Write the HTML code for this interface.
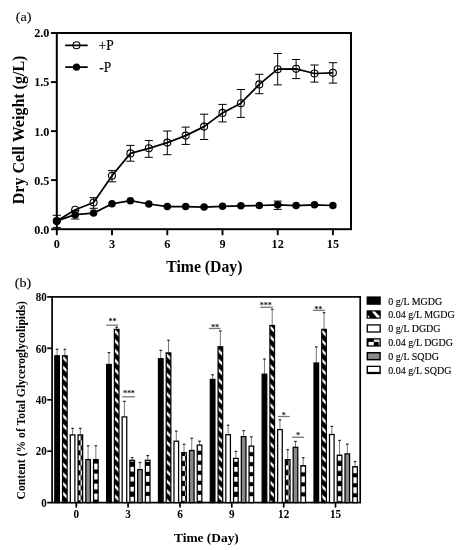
<!DOCTYPE html>
<html><head><meta charset="utf-8"><title>Figure</title>
<style>html,body{margin:0;padding:0;background:#fff;width:465px;height:550px;overflow:hidden;position:relative}</style>
</head><body>
<svg width="465" height="550" viewBox="0 0 465 550" font-family='"Liberation Serif", "Times New Roman", serif' style="position:absolute;left:0;top:0">
<rect width="465" height="550" fill="#fff"/>
<text transform="translate(15.70,20.60) scale(1,0.92)" font-size="14.2" stroke="#000" stroke-width="0.12">(a)</text>
<rect x="56.8" y="33.0" width="294.2" height="196.2" fill="none" stroke="#000" stroke-width="2"/>
<line x1="51.0" y1="229.2" x2="56.8" y2="229.2" stroke="#000" stroke-width="1.9"/>
<text transform="translate(49.40,233.60) scale(1,1.06)" font-size="12.2" font-weight="bold" text-anchor="end">0.0</text>
<line x1="51.0" y1="180.1" x2="56.8" y2="180.1" stroke="#000" stroke-width="1.9"/>
<text transform="translate(49.40,184.55) scale(1,1.06)" font-size="12.2" font-weight="bold" text-anchor="end">0.5</text>
<line x1="51.0" y1="131.1" x2="56.8" y2="131.1" stroke="#000" stroke-width="1.9"/>
<text transform="translate(49.40,135.50) scale(1,1.06)" font-size="12.2" font-weight="bold" text-anchor="end">1.0</text>
<line x1="51.0" y1="82.1" x2="56.8" y2="82.1" stroke="#000" stroke-width="1.9"/>
<text transform="translate(49.40,86.45) scale(1,1.06)" font-size="12.2" font-weight="bold" text-anchor="end">1.5</text>
<line x1="51.0" y1="33.0" x2="56.8" y2="33.0" stroke="#000" stroke-width="1.9"/>
<text transform="translate(49.40,37.40) scale(1,1.06)" font-size="12.2" font-weight="bold" text-anchor="end">2.0</text>
<line x1="56.8" y1="229.2" x2="56.8" y2="235.2" stroke="#000" stroke-width="1.9"/>
<text transform="translate(56.80,247.70) scale(1,1.06)" font-size="12.2" font-weight="bold" text-anchor="middle">0</text>
<line x1="112.0" y1="229.2" x2="112.0" y2="235.2" stroke="#000" stroke-width="1.9"/>
<text transform="translate(112.03,247.70) scale(1,1.06)" font-size="12.2" font-weight="bold" text-anchor="middle">3</text>
<line x1="167.3" y1="229.2" x2="167.3" y2="235.2" stroke="#000" stroke-width="1.9"/>
<text transform="translate(167.26,247.70) scale(1,1.06)" font-size="12.2" font-weight="bold" text-anchor="middle">6</text>
<line x1="222.5" y1="229.2" x2="222.5" y2="235.2" stroke="#000" stroke-width="1.9"/>
<text transform="translate(222.49,247.70) scale(1,1.06)" font-size="12.2" font-weight="bold" text-anchor="middle">9</text>
<line x1="277.7" y1="229.2" x2="277.7" y2="235.2" stroke="#000" stroke-width="1.9"/>
<text transform="translate(277.72,247.70) scale(1,1.06)" font-size="12.2" font-weight="bold" text-anchor="middle">12</text>
<line x1="332.9" y1="229.2" x2="332.9" y2="235.2" stroke="#000" stroke-width="1.9"/>
<text transform="translate(332.95,247.70) scale(1,1.06)" font-size="12.2" font-weight="bold" text-anchor="middle">15</text>
<text transform="translate(204.30,271.90)" font-size="15.75" font-weight="bold" text-anchor="middle">Time (Day)</text>
<text transform="translate(23.80,129.90) rotate(-90)" font-size="16" font-weight="bold" text-anchor="middle">Dry Cell Weight (g/L)</text>
<path d="M56.8 215.3V227.6M52.7 215.3H60.9M52.7 227.6H60.9" stroke="#000" stroke-width="1.0" fill="none"/>
<path d="M75.2 210.5V219.0M71.1 210.5H79.3M71.1 219.0H79.3" stroke="#000" stroke-width="1.0" fill="none"/>
<path d="M93.6 197.7V208.3M89.5 197.7H97.7M89.5 208.3H97.7" stroke="#000" stroke-width="1.0" fill="none"/>
<path d="M112.0 170.6V181.8M107.9 170.6H116.1M107.9 181.8H116.1" stroke="#000" stroke-width="1.0" fill="none"/>
<path d="M130.4 145.4V161.2M126.3 145.4H134.5M126.3 161.2H134.5" stroke="#000" stroke-width="1.0" fill="none"/>
<path d="M148.8 140.5V157.3M144.8 140.5H152.9M144.8 157.3H152.9" stroke="#000" stroke-width="1.0" fill="none"/>
<path d="M167.3 131.0V154.7M163.2 131.0H171.4M163.2 154.7H171.4" stroke="#000" stroke-width="1.0" fill="none"/>
<path d="M185.7 127.1V144.4M181.6 127.1H189.8M181.6 144.4H189.8" stroke="#000" stroke-width="1.0" fill="none"/>
<path d="M204.1 114.2V139.5M200.0 114.2H208.2M200.0 139.5H208.2" stroke="#000" stroke-width="1.0" fill="none"/>
<path d="M222.5 104.4V121.9M218.4 104.4H226.6M218.4 121.9H226.6" stroke="#000" stroke-width="1.0" fill="none"/>
<path d="M240.9 89.5V117.4M236.8 89.5H245.0M236.8 117.4H245.0" stroke="#000" stroke-width="1.0" fill="none"/>
<path d="M259.3 74.3V93.7M255.2 74.3H263.4M255.2 93.7H263.4" stroke="#000" stroke-width="1.0" fill="none"/>
<path d="M277.7 53.5V84.9M273.6 53.5H281.8M273.6 84.9H281.8" stroke="#000" stroke-width="1.0" fill="none"/>
<path d="M277.7 201.1V209.4M273.6 201.1H281.8M273.6 209.4H281.8" stroke="#000" stroke-width="1.0" fill="none"/>
<path d="M296.1 59.5V78.6M292.0 59.5H300.2M292.0 78.6H300.2" stroke="#000" stroke-width="1.0" fill="none"/>
<path d="M314.5 65.0V82.1M310.4 65.0H318.6M310.4 82.1H318.6" stroke="#000" stroke-width="1.0" fill="none"/>
<path d="M332.9 62.7V83.1M328.8 62.7H337.1M328.8 83.1H337.1" stroke="#000" stroke-width="1.0" fill="none"/>
<polyline points="56.8,221.0 75.2,209.8 93.6,202.5 112.0,175.8 130.4,153.4 148.8,148.3 167.3,142.6 185.7,135.6 204.1,126.6 222.5,112.9 240.9,103.2 259.3,84.4 277.7,69.2 296.1,68.8 314.5,73.5 332.9,72.8" fill="none" stroke="#000" stroke-width="1.75" stroke-linejoin="round"/>
<polyline points="56.8,220.9 75.2,214.7 93.6,213.1 112.0,203.8 130.4,200.7 148.8,204.0 167.3,206.6 185.7,206.6 204.1,207.1 222.5,206.3 240.9,205.8 259.3,205.5 277.7,204.8 296.1,205.6 314.5,204.8 332.9,205.5" fill="none" stroke="#000" stroke-width="1.75" stroke-linejoin="round"/>
<circle cx="56.8" cy="221.0" r="3.5" fill="none" stroke="#000" stroke-width="1.1"/>
<circle cx="75.2" cy="209.8" r="3.5" fill="none" stroke="#000" stroke-width="1.1"/>
<circle cx="93.6" cy="202.5" r="3.5" fill="none" stroke="#000" stroke-width="1.1"/>
<circle cx="112.0" cy="175.8" r="3.5" fill="none" stroke="#000" stroke-width="1.1"/>
<circle cx="130.4" cy="153.4" r="3.5" fill="none" stroke="#000" stroke-width="1.1"/>
<circle cx="148.8" cy="148.3" r="3.5" fill="none" stroke="#000" stroke-width="1.1"/>
<circle cx="167.3" cy="142.6" r="3.5" fill="none" stroke="#000" stroke-width="1.1"/>
<circle cx="185.7" cy="135.6" r="3.5" fill="none" stroke="#000" stroke-width="1.1"/>
<circle cx="204.1" cy="126.6" r="3.5" fill="none" stroke="#000" stroke-width="1.1"/>
<circle cx="222.5" cy="112.9" r="3.5" fill="none" stroke="#000" stroke-width="1.1"/>
<circle cx="240.9" cy="103.2" r="3.5" fill="none" stroke="#000" stroke-width="1.1"/>
<circle cx="259.3" cy="84.4" r="3.5" fill="none" stroke="#000" stroke-width="1.1"/>
<circle cx="277.7" cy="69.2" r="3.5" fill="none" stroke="#000" stroke-width="1.1"/>
<circle cx="296.1" cy="68.8" r="3.5" fill="none" stroke="#000" stroke-width="1.1"/>
<circle cx="314.5" cy="73.5" r="3.5" fill="none" stroke="#000" stroke-width="1.1"/>
<circle cx="332.9" cy="72.8" r="3.5" fill="none" stroke="#000" stroke-width="1.1"/>
<circle cx="56.8" cy="220.9" r="3.75" fill="#000"/>
<circle cx="75.2" cy="214.7" r="3.75" fill="#000"/>
<circle cx="93.6" cy="213.1" r="3.75" fill="#000"/>
<circle cx="112.0" cy="203.8" r="3.75" fill="#000"/>
<circle cx="130.4" cy="200.7" r="3.75" fill="#000"/>
<circle cx="148.8" cy="204.0" r="3.75" fill="#000"/>
<circle cx="167.3" cy="206.6" r="3.75" fill="#000"/>
<circle cx="185.7" cy="206.6" r="3.75" fill="#000"/>
<circle cx="204.1" cy="207.1" r="3.75" fill="#000"/>
<circle cx="222.5" cy="206.3" r="3.75" fill="#000"/>
<circle cx="240.9" cy="205.8" r="3.75" fill="#000"/>
<circle cx="259.3" cy="205.5" r="3.75" fill="#000"/>
<circle cx="277.7" cy="204.8" r="3.75" fill="#000"/>
<circle cx="296.1" cy="205.6" r="3.75" fill="#000"/>
<circle cx="314.5" cy="204.8" r="3.75" fill="#000"/>
<circle cx="332.9" cy="205.5" r="3.75" fill="#000"/>
<path d="M65.2 45.3H87.7M65.2 67.2H87.7" stroke="#000" stroke-width="1.8"/>
<circle cx="76.5" cy="45.3" r="3.5" fill="none" stroke="#000" stroke-width="1.1"/>
<circle cx="76.5" cy="67.2" r="3.6" fill="#000"/>
<text transform="translate(98.60,50.10) scale(1,1.15)" font-size="13.5" stroke="#000" stroke-width="0.15">+P</text>
<text transform="translate(99.20,72.00) scale(1,1.15)" font-size="13.5" stroke="#000" stroke-width="0.15">-P</text>
<text transform="translate(14.80,286.70) scale(1,0.92)" font-size="14.2" stroke="#000" stroke-width="0.12">(b)</text>
<defs><pattern id="h0" patternUnits="userSpaceOnUse" width="9.7" height="9.7" patternTransform="translate(64.85,359.30)"><rect width="9.7" height="9.7" fill="#000"/><path d="M-3,-3 L12.7,12.7 M-12.7,-3 L3,12.7 M6.699999999999999,-3 L22.4,12.7" stroke="#fff" stroke-width="2.5"/></pattern><pattern id="c0" patternUnits="userSpaceOnUse" width="5.8" height="10" patternTransform="translate(77.45,435.3)"><rect width="5.8" height="10" fill="#000"/><rect width="3.30" height="5" fill="#fff"/><rect x="3.30" y="5" width="2.50" height="5.00" fill="#fff"/></pattern><pattern id="s0" patternUnits="userSpaceOnUse" width="5.8" height="10" patternTransform="translate(92.95,463.6)"><rect width="5.8" height="10" fill="#000"/><rect width="5.8" height="5.9" fill="#fff"/></pattern><pattern id="h1" patternUnits="userSpaceOnUse" width="9.7" height="9.7" patternTransform="translate(116.69,332.80)"><rect width="9.7" height="9.7" fill="#000"/><path d="M-3,-3 L12.7,12.7 M-12.7,-3 L3,12.7 M6.699999999999999,-3 L22.4,12.7" stroke="#fff" stroke-width="2.5"/></pattern><pattern id="c1" patternUnits="userSpaceOnUse" width="5.8" height="10" patternTransform="translate(129.29,466.8)"><rect width="5.8" height="10" fill="#000"/><rect width="5.80" height="4.7" fill="#fff"/></pattern><pattern id="s1" patternUnits="userSpaceOnUse" width="5.8" height="10" patternTransform="translate(144.79,465.9)"><rect width="5.8" height="10" fill="#000"/><rect width="5.8" height="5.9" fill="#fff"/></pattern><pattern id="h2" patternUnits="userSpaceOnUse" width="9.7" height="9.7" patternTransform="translate(168.53,356.70)"><rect width="9.7" height="9.7" fill="#000"/><path d="M-3,-3 L12.7,12.7 M-12.7,-3 L3,12.7 M6.699999999999999,-3 L22.4,12.7" stroke="#fff" stroke-width="2.5"/></pattern><pattern id="c2" patternUnits="userSpaceOnUse" width="5.8" height="10" patternTransform="translate(181.13,456.1)"><rect width="5.8" height="10" fill="#000"/><rect width="4.00" height="4.8" fill="#fff"/><rect x="4.00" y="4.8" width="1.80" height="5.20" fill="#fff"/></pattern><pattern id="s2" patternUnits="userSpaceOnUse" width="5.8" height="10" patternTransform="translate(196.63,464.8)"><rect width="5.8" height="10" fill="#000"/><rect width="5.8" height="5.9" fill="#fff"/></pattern><pattern id="h3" patternUnits="userSpaceOnUse" width="9.7" height="9.7" patternTransform="translate(220.37,352.40)"><rect width="9.7" height="9.7" fill="#000"/><path d="M-3,-3 L12.7,12.7 M-12.7,-3 L3,12.7 M6.699999999999999,-3 L22.4,12.7" stroke="#fff" stroke-width="2.5"/></pattern><pattern id="c3" patternUnits="userSpaceOnUse" width="5.8" height="10" patternTransform="translate(232.97,466.9)"><rect width="5.8" height="10" fill="#000"/><rect width="5.80" height="4.8" fill="#fff"/></pattern><pattern id="s3" patternUnits="userSpaceOnUse" width="5.8" height="10" patternTransform="translate(248.47,466.2)"><rect width="5.8" height="10" fill="#000"/><rect width="5.8" height="5.9" fill="#fff"/></pattern><pattern id="h4" patternUnits="userSpaceOnUse" width="9.7" height="9.7" patternTransform="translate(272.21,329.00)"><rect width="9.7" height="9.7" fill="#000"/><path d="M-3,-3 L12.7,12.7 M-12.7,-3 L3,12.7 M6.699999999999999,-3 L22.4,12.7" stroke="#fff" stroke-width="2.5"/></pattern><pattern id="c4" patternUnits="userSpaceOnUse" width="5.8" height="10" patternTransform="translate(284.81,465.3)"><rect width="5.8" height="10" fill="#000"/><rect width="3.80" height="4.4" fill="#fff"/><rect x="3.80" y="4.4" width="2.00" height="5.60" fill="#fff"/></pattern><pattern id="s4" patternUnits="userSpaceOnUse" width="5.8" height="10" patternTransform="translate(300.31,466.4)"><rect width="5.8" height="10" fill="#000"/><rect width="5.8" height="5.9" fill="#fff"/></pattern><pattern id="h5" patternUnits="userSpaceOnUse" width="9.7" height="9.7" patternTransform="translate(324.05,333.10)"><rect width="9.7" height="9.7" fill="#000"/><path d="M-3,-3 L12.7,12.7 M-12.7,-3 L3,12.7 M6.699999999999999,-3 L22.4,12.7" stroke="#fff" stroke-width="2.5"/></pattern><pattern id="c5" patternUnits="userSpaceOnUse" width="5.8" height="10.1" patternTransform="translate(336.65,466.0)"><rect width="5.8" height="10.1" fill="#000"/><rect width="5.80" height="4.8" fill="#fff"/></pattern><pattern id="s5" patternUnits="userSpaceOnUse" width="5.8" height="10" patternTransform="translate(352.15,467.3)"><rect width="5.8" height="10" fill="#000"/><rect width="5.8" height="5.9" fill="#fff"/></pattern></defs>
<rect x="52.1" y="296.9" width="308.1" height="205.7" fill="none" stroke="#000" stroke-width="1.7"/>
<path d="M57.10 355.5V349.3" stroke="#777" stroke-width="1"/>
<path d="M55.80 349.3H58.40" stroke="#222" stroke-width="1.2"/>
<rect x="54.80" y="355.80" width="4.60" height="146.80" fill="#000" stroke="#000" stroke-width="1.25"/>
<path d="M64.85 355.5V349.3" stroke="#777" stroke-width="1"/>
<path d="M63.55 349.3H66.15" stroke="#222" stroke-width="1.2"/>
<rect x="62.55" y="355.80" width="4.60" height="146.80" fill="url(#h0)" stroke="#000" stroke-width="1.25"/>
<path d="M72.60 434.6V428.4" stroke="#777" stroke-width="1"/>
<path d="M71.30 428.4H73.90" stroke="#222" stroke-width="1.2"/>
<rect x="70.30" y="434.90" width="4.60" height="67.70" fill="#fff" stroke="#000" stroke-width="1.25"/>
<path d="M80.35 434.6V428.4" stroke="#777" stroke-width="1"/>
<path d="M79.05 428.4H81.65" stroke="#222" stroke-width="1.2"/>
<rect x="78.05" y="434.90" width="4.60" height="67.70" fill="url(#c0)" stroke="#000" stroke-width="1.25"/>
<path d="M88.10 459.3V445.8" stroke="#777" stroke-width="1"/>
<path d="M86.80 445.8H89.40" stroke="#222" stroke-width="1.2"/>
<rect x="85.80" y="459.60" width="4.60" height="43.00" fill="#8a8a8a" stroke="#000" stroke-width="1.25"/>
<path d="M95.85 459.3V445.8" stroke="#777" stroke-width="1"/>
<path d="M94.55 445.8H97.15" stroke="#222" stroke-width="1.2"/>
<rect x="93.55" y="459.60" width="4.60" height="43.00" fill="url(#s0)" stroke="#000" stroke-width="1.25"/>
<path d="M108.94 364.2V352.6" stroke="#777" stroke-width="1"/>
<path d="M107.64 352.6H110.24" stroke="#222" stroke-width="1.2"/>
<rect x="106.64" y="364.50" width="4.60" height="138.10" fill="#000" stroke="#000" stroke-width="1.25"/>
<path d="M116.69 329.1V327.2" stroke="#777" stroke-width="1"/>
<path d="M115.39 327.2H117.99" stroke="#222" stroke-width="1.2"/>
<rect x="114.39" y="329.40" width="4.60" height="173.20" fill="url(#h1)" stroke="#000" stroke-width="1.25"/>
<path d="M124.44 416.6V401.4" stroke="#777" stroke-width="1"/>
<path d="M123.14 401.4H125.74" stroke="#222" stroke-width="1.2"/>
<rect x="122.14" y="416.90" width="4.60" height="85.70" fill="#fff" stroke="#000" stroke-width="1.25"/>
<path d="M132.19 460.0V457.6" stroke="#777" stroke-width="1"/>
<path d="M130.89 457.6H133.49" stroke="#222" stroke-width="1.2"/>
<rect x="129.89" y="460.30" width="4.60" height="42.30" fill="url(#c1)" stroke="#000" stroke-width="1.25"/>
<path d="M139.94 469.3V462.5" stroke="#777" stroke-width="1"/>
<path d="M138.64 462.5H141.24" stroke="#222" stroke-width="1.2"/>
<rect x="137.64" y="469.60" width="4.60" height="33.00" fill="#8a8a8a" stroke="#000" stroke-width="1.25"/>
<path d="M147.69 460.0V455.6" stroke="#777" stroke-width="1"/>
<path d="M146.39 455.6H148.99" stroke="#222" stroke-width="1.2"/>
<rect x="145.39" y="460.30" width="4.60" height="42.30" fill="url(#s1)" stroke="#000" stroke-width="1.25"/>
<path d="M160.78 358.4V350.4" stroke="#777" stroke-width="1"/>
<path d="M159.48 350.4H162.08" stroke="#222" stroke-width="1.2"/>
<rect x="158.48" y="358.70" width="4.60" height="143.90" fill="#000" stroke="#000" stroke-width="1.25"/>
<path d="M168.53 352.6V340.3" stroke="#777" stroke-width="1"/>
<path d="M167.23 340.3H169.83" stroke="#222" stroke-width="1.2"/>
<rect x="166.23" y="352.90" width="4.60" height="149.70" fill="url(#h2)" stroke="#000" stroke-width="1.25"/>
<path d="M176.28 440.9V431.1" stroke="#777" stroke-width="1"/>
<path d="M174.98 431.1H177.58" stroke="#222" stroke-width="1.2"/>
<rect x="173.98" y="441.20" width="4.60" height="61.40" fill="#fff" stroke="#000" stroke-width="1.25"/>
<path d="M184.03 452.4V444.2" stroke="#777" stroke-width="1"/>
<path d="M182.73 444.2H185.33" stroke="#222" stroke-width="1.2"/>
<rect x="181.73" y="452.70" width="4.60" height="49.90" fill="url(#c2)" stroke="#000" stroke-width="1.25"/>
<path d="M191.78 450.2V438.3" stroke="#777" stroke-width="1"/>
<path d="M190.48 438.3H193.08" stroke="#222" stroke-width="1.2"/>
<rect x="189.48" y="450.50" width="4.60" height="52.10" fill="#8a8a8a" stroke="#000" stroke-width="1.25"/>
<path d="M199.53 444.8V441.2" stroke="#777" stroke-width="1"/>
<path d="M198.23 441.2H200.83" stroke="#222" stroke-width="1.2"/>
<rect x="197.23" y="445.10" width="4.60" height="57.50" fill="url(#s2)" stroke="#000" stroke-width="1.25"/>
<path d="M212.62 379.1V374.8" stroke="#777" stroke-width="1"/>
<path d="M211.32 374.8H213.92" stroke="#222" stroke-width="1.2"/>
<rect x="210.32" y="379.40" width="4.60" height="123.20" fill="#000" stroke="#000" stroke-width="1.25"/>
<path d="M220.37 346.5V331.0" stroke="#777" stroke-width="1"/>
<path d="M219.07 331.0H221.67" stroke="#222" stroke-width="1.2"/>
<rect x="218.07" y="346.80" width="4.60" height="155.80" fill="url(#h3)" stroke="#000" stroke-width="1.25"/>
<path d="M228.12 434.4V425.2" stroke="#777" stroke-width="1"/>
<path d="M226.82 425.2H229.42" stroke="#222" stroke-width="1.2"/>
<rect x="225.82" y="434.70" width="4.60" height="67.90" fill="#fff" stroke="#000" stroke-width="1.25"/>
<path d="M235.87 458.1V451.4" stroke="#777" stroke-width="1"/>
<path d="M234.57 451.4H237.17" stroke="#222" stroke-width="1.2"/>
<rect x="233.57" y="458.40" width="4.60" height="44.20" fill="url(#c3)" stroke="#000" stroke-width="1.25"/>
<path d="M243.62 436.3V430.6" stroke="#777" stroke-width="1"/>
<path d="M242.32 430.6H244.92" stroke="#222" stroke-width="1.2"/>
<rect x="241.32" y="436.60" width="4.60" height="66.00" fill="#8a8a8a" stroke="#000" stroke-width="1.25"/>
<path d="M251.37 445.8V436.8" stroke="#777" stroke-width="1"/>
<path d="M250.07 436.8H252.67" stroke="#222" stroke-width="1.2"/>
<rect x="249.07" y="446.10" width="4.60" height="56.50" fill="url(#s3)" stroke="#000" stroke-width="1.25"/>
<path d="M264.46 373.9V359.0" stroke="#777" stroke-width="1"/>
<path d="M263.16 359.0H265.76" stroke="#222" stroke-width="1.2"/>
<rect x="262.16" y="374.20" width="4.60" height="128.40" fill="#000" stroke="#000" stroke-width="1.25"/>
<path d="M272.21 325.2V309.3" stroke="#777" stroke-width="1"/>
<path d="M270.91 309.3H273.51" stroke="#222" stroke-width="1.2"/>
<rect x="269.91" y="325.50" width="4.60" height="177.10" fill="url(#h4)" stroke="#000" stroke-width="1.25"/>
<path d="M279.96 429.3V419.8" stroke="#777" stroke-width="1"/>
<path d="M278.66 419.8H281.26" stroke="#222" stroke-width="1.2"/>
<rect x="277.66" y="429.60" width="4.60" height="73.00" fill="#fff" stroke="#000" stroke-width="1.25"/>
<path d="M287.71 459.4V449.7" stroke="#777" stroke-width="1"/>
<path d="M286.41 449.7H289.01" stroke="#222" stroke-width="1.2"/>
<rect x="285.41" y="459.70" width="4.60" height="42.90" fill="url(#c4)" stroke="#000" stroke-width="1.25"/>
<path d="M295.46 447.0V441.4" stroke="#777" stroke-width="1"/>
<path d="M294.16 441.4H296.76" stroke="#222" stroke-width="1.2"/>
<rect x="293.16" y="447.30" width="4.60" height="55.30" fill="#8a8a8a" stroke="#000" stroke-width="1.25"/>
<path d="M303.21 465.4V457.7" stroke="#777" stroke-width="1"/>
<path d="M301.91 457.7H304.51" stroke="#222" stroke-width="1.2"/>
<rect x="300.91" y="465.70" width="4.60" height="36.90" fill="url(#s4)" stroke="#000" stroke-width="1.25"/>
<path d="M316.30 362.7V346.9" stroke="#777" stroke-width="1"/>
<path d="M315.00 346.9H317.60" stroke="#222" stroke-width="1.2"/>
<rect x="314.00" y="363.00" width="4.60" height="139.60" fill="#000" stroke="#000" stroke-width="1.25"/>
<path d="M324.05 329.1V312.7" stroke="#777" stroke-width="1"/>
<path d="M322.75 312.7H325.35" stroke="#222" stroke-width="1.2"/>
<rect x="321.75" y="329.40" width="4.60" height="173.20" fill="url(#h5)" stroke="#000" stroke-width="1.25"/>
<path d="M331.80 434.2V426.4" stroke="#777" stroke-width="1"/>
<path d="M330.50 426.4H333.10" stroke="#222" stroke-width="1.2"/>
<rect x="329.50" y="434.50" width="4.60" height="68.10" fill="#fff" stroke="#000" stroke-width="1.25"/>
<path d="M339.55 454.9V440.4" stroke="#777" stroke-width="1"/>
<path d="M338.25 440.4H340.85" stroke="#222" stroke-width="1.2"/>
<rect x="337.25" y="455.20" width="4.60" height="47.40" fill="url(#c5)" stroke="#000" stroke-width="1.25"/>
<path d="M347.30 453.6V444.2" stroke="#777" stroke-width="1"/>
<path d="M346.00 444.2H348.60" stroke="#222" stroke-width="1.2"/>
<rect x="345.00" y="453.90" width="4.60" height="48.70" fill="#8a8a8a" stroke="#000" stroke-width="1.25"/>
<path d="M355.05 466.4V461.5" stroke="#777" stroke-width="1"/>
<path d="M353.75 461.5H356.35" stroke="#222" stroke-width="1.2"/>
<rect x="352.75" y="466.70" width="4.60" height="35.90" fill="url(#s5)" stroke="#000" stroke-width="1.25"/>
<line x1="47.2" y1="502.6" x2="52.1" y2="502.6" stroke="#000" stroke-width="1.7"/>
<text transform="translate(46.70,506.80) scale(1,1.14)" font-size="11" font-weight="bold" text-anchor="end">0</text>
<line x1="47.2" y1="451.2" x2="52.1" y2="451.2" stroke="#000" stroke-width="1.7"/>
<text transform="translate(46.70,455.38) scale(1,1.14)" font-size="11" font-weight="bold" text-anchor="end">20</text>
<line x1="47.2" y1="399.8" x2="52.1" y2="399.8" stroke="#000" stroke-width="1.7"/>
<text transform="translate(46.70,403.95) scale(1,1.14)" font-size="11" font-weight="bold" text-anchor="end">40</text>
<line x1="47.2" y1="348.3" x2="52.1" y2="348.3" stroke="#000" stroke-width="1.7"/>
<text transform="translate(46.70,352.52) scale(1,1.14)" font-size="11" font-weight="bold" text-anchor="end">60</text>
<line x1="47.2" y1="296.9" x2="52.1" y2="296.9" stroke="#000" stroke-width="1.7"/>
<text transform="translate(46.70,301.10) scale(1,1.14)" font-size="11" font-weight="bold" text-anchor="end">80</text>
<line x1="76.3" y1="502.6" x2="76.3" y2="507.6" stroke="#000" stroke-width="1.7"/>
<text transform="translate(76.30,518.40) scale(1,1.1)" font-size="11.2" font-weight="bold" text-anchor="middle">0</text>
<line x1="128.1" y1="502.6" x2="128.1" y2="507.6" stroke="#000" stroke-width="1.7"/>
<text transform="translate(128.14,518.40) scale(1,1.1)" font-size="11.2" font-weight="bold" text-anchor="middle">3</text>
<line x1="180.0" y1="502.6" x2="180.0" y2="507.6" stroke="#000" stroke-width="1.7"/>
<text transform="translate(179.98,518.40) scale(1,1.1)" font-size="11.2" font-weight="bold" text-anchor="middle">6</text>
<line x1="231.8" y1="502.6" x2="231.8" y2="507.6" stroke="#000" stroke-width="1.7"/>
<text transform="translate(231.82,518.40) scale(1,1.1)" font-size="11.2" font-weight="bold" text-anchor="middle">9</text>
<line x1="283.7" y1="502.6" x2="283.7" y2="507.6" stroke="#000" stroke-width="1.7"/>
<text transform="translate(283.66,518.40) scale(1,1.1)" font-size="11.2" font-weight="bold" text-anchor="middle">12</text>
<line x1="335.5" y1="502.6" x2="335.5" y2="507.6" stroke="#000" stroke-width="1.7"/>
<text transform="translate(335.50,518.40) scale(1,1.1)" font-size="11.2" font-weight="bold" text-anchor="middle">15</text>
<text transform="translate(206.40,541.50)" font-size="13.4" font-weight="bold" text-anchor="middle">Time (Day)</text>
<text transform="translate(25.40,400.20) rotate(-90) scale(1,1.05)" font-size="11.65" font-weight="bold" text-anchor="middle">Content (% of Total Glyceroglycolipids)</text>
<path d="M106.2 325.2H118.1" stroke="#777" stroke-width="1.3"/>
<text transform="translate(112.45,324.40)" font-size="8.4" font-weight="bold" text-anchor="middle" fill="#111" letter-spacing="-0.25">**</text>
<path d="M122.3 396.8H134.8" stroke="#777" stroke-width="1.3"/>
<text transform="translate(128.90,396.30)" font-size="8.4" font-weight="bold" text-anchor="middle" fill="#111" letter-spacing="-0.25">***</text>
<path d="M209 328.5H220.6" stroke="#777" stroke-width="1.3"/>
<text transform="translate(214.95,329.70)" font-size="8.4" font-weight="bold" text-anchor="middle" fill="#111" letter-spacing="-0.25">**</text>
<path d="M260.3 307.3H272.8" stroke="#777" stroke-width="1.3"/>
<text transform="translate(265.70,308.20)" font-size="8.4" font-weight="bold" text-anchor="middle" fill="#111" letter-spacing="-0.25">***</text>
<path d="M277.9 416.5H289.8" stroke="#777" stroke-width="1.3"/>
<text transform="translate(283.60,417.90)" font-size="8.4" font-weight="bold" text-anchor="middle" fill="#111" letter-spacing="-0.25">*</text>
<path d="M292.1 437.3H304.1" stroke="#777" stroke-width="1.3"/>
<text transform="translate(297.90,438.20)" font-size="8.4" font-weight="bold" text-anchor="middle" fill="#111" letter-spacing="-0.25">*</text>
<path d="M312.9 310.4H324.9" stroke="#777" stroke-width="1.3"/>
<text transform="translate(318.25,311.70)" font-size="8.4" font-weight="bold" text-anchor="middle" fill="#111" letter-spacing="-0.25">**</text>
<rect x="366.6" y="296.4" width="14.2" height="8.4" fill="#000"/>
<text transform="translate(388.20,304.50) scale(1,1.08)" font-size="10" stroke="#000" stroke-width="0.12">0 g/L MGDG</text>
<rect x="366.6" y="310.3" width="14.2" height="8.4" fill="#000"/>
<polygon points="371.8,311.6 375.0,311.6 379.6,316.3 379.6,317.4 376.8,317.4" fill="#fff"/>
<polygon points="367.9,315.3 370.0,317.4 367.9,317.4" fill="#fff"/>
<text transform="translate(388.20,318.40) scale(1,1.08)" font-size="10" stroke="#000" stroke-width="0.12">0.04 g/L MGDG</text>
<rect x="367.25" y="324.90" width="12.9" height="7.1" fill="#fff" stroke="#000" stroke-width="1.3"/>
<text transform="translate(388.20,332.35) scale(1,1.08)" font-size="10" stroke="#000" stroke-width="0.12">0 g/L DGDG</text>
<rect x="366.6" y="338.2" width="14.2" height="8.4" fill="#000"/>
<rect x="373.8" y="339.5" width="5.8" height="2.4" fill="#e8e8e8"/>
<rect x="368.5" y="341.9" width="5.3" height="3.4" fill="#fff"/>
<rect x="378.6" y="341.9" width="0.9" height="3.4" fill="#ddd"/>
<text transform="translate(388.20,346.25) scale(1,1.08)" font-size="10" stroke="#000" stroke-width="0.12">0.04 g/L DGDG</text>
<rect x="367.35" y="352.75" width="12.7" height="6.9" fill="#8c8c8c" stroke="#000" stroke-width="1.5"/>
<text transform="translate(388.20,360.10) scale(1,1.08)" font-size="10" stroke="#000" stroke-width="0.12">0 g/L SQDG</text>
<rect x="366.6" y="365.7" width="14.2" height="8.4" fill="#000"/>
<rect x="368.0" y="367.0" width="11.4" height="4.9" fill="#fff"/>
<text transform="translate(388.20,373.80) scale(1,1.08)" font-size="10" stroke="#000" stroke-width="0.12">0.04 g/L SQDG</text>
</svg>
</body></html>
